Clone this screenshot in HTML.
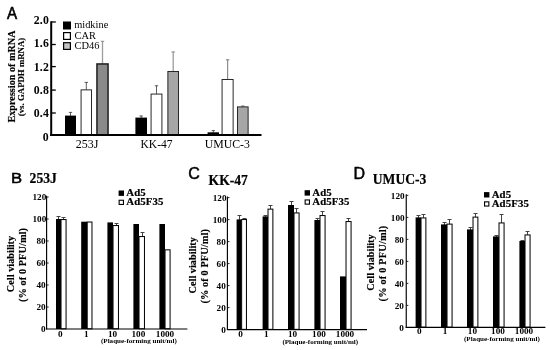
<!DOCTYPE html>
<html><head><meta charset="utf-8"><title>Figure</title>
<style>html,body{margin:0;padding:0;background:#fff;}svg{display:block;}text{font-family:"Liberation Serif",serif;fill:#000;}.b{font-weight:bold;}.s{font-family:"Liberation Sans",sans-serif;}</style></head><body>
<svg width="550" height="350" viewBox="0 0 550 350">
<rect x="0" y="0" width="550" height="350" fill="#fff"/>
<text x="7.10" y="18.70" font-size="16.4" class="s" text-anchor="start" stroke="#000" stroke-width="0.6" textLength="10.1" lengthAdjust="spacingAndGlyphs">A</text>
<line x1="70.50" y1="112.00" x2="70.50" y2="116.10" stroke="#444" stroke-width="0.85"/>
<line x1="68.80" y1="112.40" x2="72.20" y2="112.40" stroke="#444" stroke-width="0.85"/>
<rect x="65.00" y="115.60" width="11.00" height="19.40" fill="#000"/>
<line x1="86.30" y1="82.00" x2="86.30" y2="89.90" stroke="#444" stroke-width="0.85"/>
<line x1="84.60" y1="82.40" x2="88.00" y2="82.40" stroke="#444" stroke-width="0.85"/>
<rect x="81.07" y="89.88" width="10.45" height="45.15" fill="#fff" stroke="#1e1e1e" stroke-width="0.95"/>
<line x1="102.50" y1="41.00" x2="102.50" y2="63.70" stroke="#9c9c9c" stroke-width="1.3"/>
<line x1="100.80" y1="41.40" x2="104.20" y2="41.40" stroke="#9c9c9c" stroke-width="1.3"/>
<rect x="96.95" y="63.95" width="11.10" height="70.80" fill="#8a8a8a" stroke="#1e1e1e" stroke-width="1.5"/>
<line x1="141.20" y1="115.60" x2="141.20" y2="118.10" stroke="#444" stroke-width="0.85"/>
<line x1="139.50" y1="116.00" x2="142.90" y2="116.00" stroke="#444" stroke-width="0.85"/>
<rect x="135.40" y="117.60" width="11.60" height="17.40" fill="#000"/>
<line x1="156.50" y1="85.40" x2="156.50" y2="94.10" stroke="#444" stroke-width="0.85"/>
<line x1="154.80" y1="85.80" x2="158.20" y2="85.80" stroke="#444" stroke-width="0.85"/>
<rect x="151.07" y="94.07" width="10.85" height="40.95" fill="#fff" stroke="#1e1e1e" stroke-width="0.95"/>
<line x1="173.20" y1="51.60" x2="173.20" y2="71.50" stroke="#9c9c9c" stroke-width="1.3"/>
<line x1="171.50" y1="52.00" x2="174.90" y2="52.00" stroke="#9c9c9c" stroke-width="1.3"/>
<rect x="167.88" y="71.47" width="10.65" height="63.55" fill="#a6a6a6" stroke="#1e1e1e" stroke-width="0.95"/>
<line x1="213.30" y1="130.20" x2="213.30" y2="132.80" stroke="#444" stroke-width="0.85"/>
<line x1="211.60" y1="130.60" x2="215.00" y2="130.60" stroke="#444" stroke-width="0.85"/>
<rect x="207.60" y="132.30" width="11.40" height="2.70" fill="#000"/>
<line x1="227.60" y1="59.40" x2="227.60" y2="79.50" stroke="#8c8c8c" stroke-width="1.2"/>
<line x1="225.90" y1="59.80" x2="229.30" y2="59.80" stroke="#8c8c8c" stroke-width="1.2"/>
<rect x="222.07" y="79.47" width="11.05" height="55.55" fill="#ffffff" stroke="#1e1e1e" stroke-width="0.95"/>
<line x1="242.80" y1="105.60" x2="242.80" y2="106.90" stroke="#9c9c9c" stroke-width="1.3"/>
<line x1="241.10" y1="106.00" x2="244.50" y2="106.00" stroke="#9c9c9c" stroke-width="1.3"/>
<rect x="237.47" y="106.88" width="10.65" height="28.15" fill="#a6a6a6" stroke="#1e1e1e" stroke-width="0.95"/>
<line x1="51.20" y1="21.30" x2="51.20" y2="136.00" stroke="#000" stroke-width="2"/>
<line x1="50.10" y1="135.00" x2="261.50" y2="135.00" stroke="#000" stroke-width="2"/>
<line x1="51.00" y1="22.00" x2="55.80" y2="22.00" stroke="#000" stroke-width="1.3"/>
<line x1="51.00" y1="44.50" x2="55.80" y2="44.50" stroke="#000" stroke-width="1.3"/>
<line x1="51.00" y1="66.60" x2="55.80" y2="66.60" stroke="#000" stroke-width="1.3"/>
<line x1="51.00" y1="90.10" x2="55.80" y2="90.10" stroke="#000" stroke-width="1.3"/>
<line x1="51.00" y1="113.00" x2="55.80" y2="113.00" stroke="#000" stroke-width="1.3"/>
<text x="48.80" y="140.50" font-size="11.8" class="b" text-anchor="end" letter-spacing="0.25">0</text>
<text x="49.20" y="117.22" font-size="11.8" class="b" text-anchor="end" letter-spacing="0.25">0.4</text>
<text x="49.20" y="93.94" font-size="11.8" class="b" text-anchor="end" letter-spacing="0.25">0.8</text>
<text x="49.20" y="70.66" font-size="11.8" class="b" text-anchor="end" letter-spacing="0.25">1.2</text>
<text x="49.20" y="47.38" font-size="11.8" class="b" text-anchor="end" letter-spacing="0.25">1.6</text>
<text x="49.20" y="24.10" font-size="11.8" class="b" text-anchor="end" letter-spacing="0.25">2.0</text>
<rect x="63.00" y="21.50" width="8.00" height="8.00" fill="#000"/>
<rect x="63.60" y="32.60" width="6.80" height="6.80" fill="#fff" stroke="#000" stroke-width="1.2"/>
<rect x="63.60" y="42.70" width="6.80" height="6.70" fill="#c4c4c4" stroke="#000" stroke-width="1.2"/>
<text x="74.20" y="28.20" font-size="10.4" class="" text-anchor="start" >midkine</text>
<text x="74.60" y="39.20" font-size="10.4" class="" text-anchor="start" >CAR</text>
<text x="74.60" y="49.40" font-size="10.4" class="" text-anchor="start" >CD46</text>
<text x="87.00" y="148.10" font-size="12" class="" text-anchor="middle" >253J</text>
<text x="156.50" y="148.30" font-size="11.5" class="" text-anchor="middle" >KK-47</text>
<text x="227.30" y="148.30" font-size="11.8" class="" text-anchor="middle" >UMUC-3</text>
<text transform="translate(14.60,76.50) rotate(-90)" font-size="10.2" class="b" text-anchor="middle" letter-spacing="0" stroke="#000" stroke-width="0.15">Expression of mRNA</text>
<text transform="translate(24.30,77.00) rotate(-90)" font-size="8.8" class="b" text-anchor="middle" letter-spacing="0" stroke="#000" stroke-width="0.15">(vs. GAPDH mRNA)</text>
<text x="11.00" y="182.50" font-size="15.3" class="s" text-anchor="start" stroke="#000" stroke-width="0.5" textLength="11.1" lengthAdjust="spacingAndGlyphs">B</text>
<text x="29.60" y="183.40" font-size="13.6" class="b" text-anchor="start" stroke="#000" stroke-width="0.2">253J</text>
<line x1="58.50" y1="216.00" x2="58.50" y2="219.50" stroke="#444" stroke-width="1"/>
<line x1="56.50" y1="216.50" x2="60.50" y2="216.50" stroke="#444" stroke-width="1"/>
<line x1="63.50" y1="217.00" x2="63.50" y2="219.50" stroke="#444" stroke-width="1"/>
<line x1="61.50" y1="217.50" x2="65.50" y2="217.50" stroke="#444" stroke-width="1"/>
<rect x="56.00" y="219.00" width="5.00" height="110.00" fill="#000"/>
<rect x="61.02" y="219.53" width="5.05" height="109.25" fill="#fff" stroke="#0a0a0a" stroke-width="1.05"/>
<rect x="81.20" y="221.70" width="6.00" height="107.30" fill="#000"/>
<rect x="87.23" y="222.03" width="4.75" height="106.75" fill="#fff" stroke="#0a0a0a" stroke-width="1.05"/>
<line x1="116.50" y1="223.00" x2="116.50" y2="225.50" stroke="#444" stroke-width="1"/>
<line x1="114.50" y1="223.50" x2="118.50" y2="223.50" stroke="#444" stroke-width="1"/>
<rect x="107.40" y="222.40" width="5.60" height="106.60" fill="#000"/>
<rect x="113.03" y="225.53" width="5.45" height="103.25" fill="#fff" stroke="#0a0a0a" stroke-width="1.05"/>
<line x1="142.50" y1="232.00" x2="142.50" y2="236.50" stroke="#444" stroke-width="1"/>
<line x1="140.50" y1="232.50" x2="144.50" y2="232.50" stroke="#444" stroke-width="1"/>
<rect x="133.40" y="224.00" width="5.60" height="105.00" fill="#000"/>
<rect x="139.03" y="236.53" width="5.45" height="92.25" fill="#fff" stroke="#0a0a0a" stroke-width="1.05"/>
<rect x="159.40" y="224.00" width="5.60" height="105.00" fill="#000"/>
<rect x="165.03" y="249.83" width="5.05" height="78.95" fill="#fff" stroke="#0a0a0a" stroke-width="1.05"/>
<line x1="46.60" y1="195.80" x2="46.60" y2="329.50" stroke="#000" stroke-width="1.15"/>
<line x1="46.10" y1="329.00" x2="187.40" y2="329.00" stroke="#000" stroke-width="1.2"/>
<line x1="46.60" y1="307.00" x2="48.70" y2="307.00" stroke="#111" stroke-width="0.9"/>
<line x1="46.60" y1="285.00" x2="48.70" y2="285.00" stroke="#111" stroke-width="0.9"/>
<line x1="46.60" y1="263.00" x2="48.70" y2="263.00" stroke="#111" stroke-width="0.9"/>
<line x1="46.60" y1="241.00" x2="48.70" y2="241.00" stroke="#111" stroke-width="0.9"/>
<line x1="46.60" y1="219.00" x2="48.70" y2="219.00" stroke="#111" stroke-width="0.9"/>
<line x1="46.60" y1="197.00" x2="48.70" y2="197.00" stroke="#111" stroke-width="0.9"/>
<text x="45.60" y="332.10" font-size="9.2" class="b" text-anchor="end" >0</text>
<text x="45.60" y="310.10" font-size="9.2" class="b" text-anchor="end" >20</text>
<text x="45.60" y="288.10" font-size="9.2" class="b" text-anchor="end" >40</text>
<text x="45.60" y="266.10" font-size="9.2" class="b" text-anchor="end" >60</text>
<text x="45.60" y="244.10" font-size="9.2" class="b" text-anchor="end" >80</text>
<text x="46.30" y="222.10" font-size="9.2" class="b" text-anchor="end" >100</text>
<text x="46.30" y="200.10" font-size="9.2" class="b" text-anchor="end" >120</text>
<rect x="118.60" y="190.50" width="5.40" height="5.40" fill="#000"/>
<rect x="119.15" y="200.25" width="4.30" height="4.20" fill="#fff" stroke="#000" stroke-width="1.1"/>
<text x="126.30" y="196.00" font-size="10.8" class="b" text-anchor="start" stroke="#000" stroke-width="0.2" letter-spacing="0.12">Ad5</text>
<text x="126.30" y="205.00" font-size="10.8" class="b" text-anchor="start" stroke="#000" stroke-width="0.2" letter-spacing="0.12">Ad5F35</text>
<text x="60.20" y="336.70" font-size="9.2" class="b" text-anchor="middle" >0</text>
<text x="86.20" y="336.70" font-size="9.2" class="b" text-anchor="middle" >1</text>
<text x="112.60" y="336.70" font-size="9.2" class="b" text-anchor="middle" >10</text>
<text x="138.40" y="336.70" font-size="9.2" class="b" text-anchor="middle" >100</text>
<text x="165.00" y="336.70" font-size="9.2" class="b" text-anchor="middle" >1000</text>
<text x="101.00" y="343.20" font-size="7.05" class="b" text-anchor="start" >(Plaque-forming unit/ml)</text>
<text transform="translate(14.20,264.00) rotate(-90)" font-size="10.3" class="b" text-anchor="middle" letter-spacing="0" stroke="#000" stroke-width="0.15">Cell viability</text>
<text transform="translate(25.80,265.00) rotate(-90)" font-size="10.3" class="b" text-anchor="middle" letter-spacing="0.07" stroke="#000" stroke-width="0.15">(% of 0 PFU/ml)</text>
<text x="188.30" y="178.70" font-size="16" class="s" text-anchor="start" stroke="#000" stroke-width="0.5">C</text>
<text x="208.60" y="184.80" font-size="13.6" class="b" text-anchor="start" stroke="#000" stroke-width="0.2">KK-47</text>
<line x1="239.50" y1="215.00" x2="239.50" y2="219.90" stroke="#444" stroke-width="1"/>
<line x1="237.50" y1="215.50" x2="241.50" y2="215.50" stroke="#444" stroke-width="1"/>
<line x1="244.50" y1="218.00" x2="244.50" y2="219.50" stroke="#444" stroke-width="1"/>
<line x1="242.50" y1="218.50" x2="246.50" y2="218.50" stroke="#444" stroke-width="1"/>
<rect x="236.60" y="219.40" width="5.00" height="110.20" fill="#000"/>
<rect x="241.62" y="219.53" width="4.85" height="109.85" fill="#fff" stroke="#0a0a0a" stroke-width="1.05"/>
<line x1="265.50" y1="215.00" x2="265.50" y2="216.90" stroke="#444" stroke-width="1"/>
<line x1="263.50" y1="215.50" x2="267.50" y2="215.50" stroke="#444" stroke-width="1"/>
<line x1="270.50" y1="205.00" x2="270.50" y2="209.10" stroke="#444" stroke-width="1"/>
<line x1="268.50" y1="205.50" x2="272.50" y2="205.50" stroke="#444" stroke-width="1"/>
<rect x="262.60" y="216.40" width="5.40" height="113.20" fill="#000"/>
<rect x="268.02" y="209.12" width="4.85" height="120.25" fill="#fff" stroke="#0a0a0a" stroke-width="1.05"/>
<line x1="291.50" y1="201.00" x2="291.50" y2="205.50" stroke="#444" stroke-width="1"/>
<line x1="289.50" y1="201.50" x2="293.50" y2="201.50" stroke="#444" stroke-width="1"/>
<line x1="296.50" y1="208.00" x2="296.50" y2="212.90" stroke="#444" stroke-width="1"/>
<line x1="294.50" y1="208.50" x2="298.50" y2="208.50" stroke="#444" stroke-width="1"/>
<rect x="288.00" y="205.00" width="6.00" height="124.60" fill="#000"/>
<rect x="294.02" y="212.93" width="5.05" height="116.45" fill="#fff" stroke="#0a0a0a" stroke-width="1.05"/>
<line x1="317.50" y1="218.00" x2="317.50" y2="220.50" stroke="#444" stroke-width="1"/>
<line x1="315.50" y1="218.50" x2="319.50" y2="218.50" stroke="#444" stroke-width="1"/>
<line x1="322.50" y1="211.00" x2="322.50" y2="215.50" stroke="#444" stroke-width="1"/>
<line x1="320.50" y1="211.50" x2="324.50" y2="211.50" stroke="#444" stroke-width="1"/>
<rect x="314.40" y="220.00" width="5.60" height="109.60" fill="#000"/>
<rect x="320.02" y="215.53" width="5.05" height="113.85" fill="#fff" stroke="#0a0a0a" stroke-width="1.05"/>
<line x1="348.50" y1="218.00" x2="348.50" y2="221.50" stroke="#444" stroke-width="1"/>
<line x1="346.50" y1="218.50" x2="350.50" y2="218.50" stroke="#444" stroke-width="1"/>
<rect x="340.00" y="276.40" width="6.00" height="53.20" fill="#000"/>
<rect x="346.02" y="221.53" width="5.05" height="107.85" fill="#fff" stroke="#0a0a0a" stroke-width="1.05"/>
<line x1="227.40" y1="196.40" x2="227.40" y2="330.10" stroke="#000" stroke-width="1.15"/>
<line x1="226.90" y1="329.60" x2="367.00" y2="329.60" stroke="#000" stroke-width="1.2"/>
<line x1="227.40" y1="307.60" x2="229.50" y2="307.60" stroke="#111" stroke-width="0.9"/>
<line x1="227.40" y1="285.60" x2="229.50" y2="285.60" stroke="#111" stroke-width="0.9"/>
<line x1="227.40" y1="263.60" x2="229.50" y2="263.60" stroke="#111" stroke-width="0.9"/>
<line x1="227.40" y1="241.60" x2="229.50" y2="241.60" stroke="#111" stroke-width="0.9"/>
<line x1="227.40" y1="219.60" x2="229.50" y2="219.60" stroke="#111" stroke-width="0.9"/>
<line x1="227.40" y1="197.60" x2="229.50" y2="197.60" stroke="#111" stroke-width="0.9"/>
<text x="225.80" y="332.70" font-size="9.2" class="b" text-anchor="end" >0</text>
<text x="225.80" y="310.70" font-size="9.2" class="b" text-anchor="end" >20</text>
<text x="225.80" y="288.70" font-size="9.2" class="b" text-anchor="end" >40</text>
<text x="225.80" y="266.70" font-size="9.2" class="b" text-anchor="end" >60</text>
<text x="225.80" y="244.70" font-size="9.2" class="b" text-anchor="end" >80</text>
<text x="226.50" y="222.70" font-size="9.2" class="b" text-anchor="end" >100</text>
<text x="226.50" y="200.70" font-size="9.2" class="b" text-anchor="end" >120</text>
<rect x="304.60" y="190.20" width="5.40" height="5.40" fill="#000"/>
<rect x="305.15" y="199.95" width="4.30" height="4.20" fill="#fff" stroke="#000" stroke-width="1.1"/>
<text x="312.30" y="195.70" font-size="10.8" class="b" text-anchor="start" stroke="#000" stroke-width="0.2" letter-spacing="0.12">Ad5</text>
<text x="312.30" y="204.70" font-size="10.8" class="b" text-anchor="start" stroke="#000" stroke-width="0.2" letter-spacing="0.12">Ad5F35</text>
<text x="240.60" y="337.00" font-size="9.2" class="b" text-anchor="middle" >0</text>
<text x="266.40" y="337.00" font-size="9.2" class="b" text-anchor="middle" >1</text>
<text x="292.60" y="337.00" font-size="9.2" class="b" text-anchor="middle" >10</text>
<text x="319.00" y="337.00" font-size="9.2" class="b" text-anchor="middle" >100</text>
<text x="345.00" y="337.00" font-size="9.2" class="b" text-anchor="middle" >1000</text>
<text x="282.40" y="343.60" font-size="7.05" class="b" text-anchor="start" >(Plaque-forming unit/ml)</text>
<text transform="translate(196.10,265.30) rotate(-90)" font-size="10.3" class="b" text-anchor="middle" letter-spacing="0" stroke="#000" stroke-width="0.15">Cell viability</text>
<text transform="translate(208.20,266.30) rotate(-90)" font-size="10.3" class="b" text-anchor="middle" letter-spacing="0.1" stroke="#000" stroke-width="0.15">(% of 0 PFU/ml)</text>
<text x="353.60" y="178.80" font-size="16" class="s" text-anchor="start" stroke="#000" stroke-width="0.5">D</text>
<text x="372.80" y="183.70" font-size="13.6" class="b" text-anchor="start" stroke="#000" stroke-width="0.2">UMUC-3</text>
<line x1="418.50" y1="215.00" x2="418.50" y2="217.90" stroke="#444" stroke-width="1"/>
<line x1="416.50" y1="215.50" x2="420.50" y2="215.50" stroke="#444" stroke-width="1"/>
<line x1="423.50" y1="214.00" x2="423.50" y2="217.90" stroke="#444" stroke-width="1"/>
<line x1="421.50" y1="214.50" x2="425.50" y2="214.50" stroke="#444" stroke-width="1"/>
<rect x="415.60" y="217.40" width="5.40" height="110.00" fill="#000"/>
<rect x="421.02" y="217.93" width="4.85" height="109.25" fill="#fff" stroke="#0a0a0a" stroke-width="1.05"/>
<line x1="444.50" y1="222.00" x2="444.50" y2="224.90" stroke="#444" stroke-width="1"/>
<line x1="442.50" y1="222.50" x2="446.50" y2="222.50" stroke="#444" stroke-width="1"/>
<line x1="449.50" y1="219.00" x2="449.50" y2="224.10" stroke="#444" stroke-width="1"/>
<line x1="447.50" y1="219.50" x2="451.50" y2="219.50" stroke="#444" stroke-width="1"/>
<rect x="441.00" y="224.40" width="6.00" height="103.00" fill="#000"/>
<rect x="447.02" y="224.12" width="5.05" height="103.05" fill="#fff" stroke="#0a0a0a" stroke-width="1.05"/>
<line x1="470.50" y1="227.00" x2="470.50" y2="229.90" stroke="#444" stroke-width="1"/>
<line x1="468.50" y1="227.50" x2="472.50" y2="227.50" stroke="#444" stroke-width="1"/>
<line x1="475.50" y1="213.00" x2="475.50" y2="217.10" stroke="#444" stroke-width="1"/>
<line x1="473.50" y1="213.50" x2="477.50" y2="213.50" stroke="#444" stroke-width="1"/>
<rect x="467.00" y="229.40" width="6.00" height="98.00" fill="#000"/>
<rect x="473.02" y="217.12" width="4.85" height="110.05" fill="#fff" stroke="#0a0a0a" stroke-width="1.05"/>
<line x1="496.50" y1="235.00" x2="496.50" y2="236.90" stroke="#444" stroke-width="1"/>
<line x1="494.50" y1="235.50" x2="498.50" y2="235.50" stroke="#444" stroke-width="1"/>
<line x1="501.50" y1="214.00" x2="501.50" y2="222.90" stroke="#444" stroke-width="1"/>
<line x1="499.50" y1="214.50" x2="503.50" y2="214.50" stroke="#444" stroke-width="1"/>
<rect x="493.00" y="236.40" width="6.00" height="91.00" fill="#000"/>
<rect x="499.02" y="222.93" width="5.05" height="104.25" fill="#fff" stroke="#0a0a0a" stroke-width="1.05"/>
<line x1="522.50" y1="240.00" x2="522.50" y2="241.50" stroke="#444" stroke-width="1"/>
<line x1="520.50" y1="240.50" x2="524.50" y2="240.50" stroke="#444" stroke-width="1"/>
<line x1="527.50" y1="231.00" x2="527.50" y2="234.90" stroke="#444" stroke-width="1"/>
<line x1="525.50" y1="231.50" x2="529.50" y2="231.50" stroke="#444" stroke-width="1"/>
<rect x="519.40" y="241.00" width="5.60" height="86.40" fill="#000"/>
<rect x="525.02" y="234.93" width="5.05" height="92.25" fill="#fff" stroke="#0a0a0a" stroke-width="1.05"/>
<line x1="406.25" y1="194.20" x2="406.25" y2="327.90" stroke="#000" stroke-width="1.15"/>
<line x1="405.75" y1="327.40" x2="545.40" y2="327.40" stroke="#000" stroke-width="1.2"/>
<line x1="406.25" y1="305.40" x2="408.35" y2="305.40" stroke="#111" stroke-width="0.9"/>
<line x1="406.25" y1="283.40" x2="408.35" y2="283.40" stroke="#111" stroke-width="0.9"/>
<line x1="406.25" y1="261.40" x2="408.35" y2="261.40" stroke="#111" stroke-width="0.9"/>
<line x1="406.25" y1="239.40" x2="408.35" y2="239.40" stroke="#111" stroke-width="0.9"/>
<line x1="406.25" y1="217.40" x2="408.35" y2="217.40" stroke="#111" stroke-width="0.9"/>
<line x1="406.25" y1="195.40" x2="408.35" y2="195.40" stroke="#111" stroke-width="0.9"/>
<text x="403.95" y="330.50" font-size="9.2" class="b" text-anchor="end" >0</text>
<text x="403.95" y="308.50" font-size="9.2" class="b" text-anchor="end" >20</text>
<text x="403.95" y="286.50" font-size="9.2" class="b" text-anchor="end" >40</text>
<text x="403.95" y="264.50" font-size="9.2" class="b" text-anchor="end" >60</text>
<text x="403.95" y="242.50" font-size="9.2" class="b" text-anchor="end" >80</text>
<text x="404.65" y="220.50" font-size="9.2" class="b" text-anchor="end" >100</text>
<text x="404.65" y="198.50" font-size="9.2" class="b" text-anchor="end" >120</text>
<rect x="484.00" y="192.10" width="5.40" height="5.40" fill="#000"/>
<rect x="484.55" y="201.85" width="4.30" height="4.20" fill="#fff" stroke="#000" stroke-width="1.1"/>
<text x="491.70" y="197.60" font-size="10.8" class="b" text-anchor="start" stroke="#000" stroke-width="0.2" letter-spacing="0.12">Ad5</text>
<text x="491.70" y="206.60" font-size="10.8" class="b" text-anchor="start" stroke="#000" stroke-width="0.2" letter-spacing="0.12">Ad5F35</text>
<text x="419.40" y="334.20" font-size="9.2" class="b" text-anchor="middle" >0</text>
<text x="445.00" y="334.20" font-size="9.2" class="b" text-anchor="middle" >1</text>
<text x="472.40" y="334.20" font-size="9.2" class="b" text-anchor="middle" >10</text>
<text x="498.00" y="334.20" font-size="9.2" class="b" text-anchor="middle" >100</text>
<text x="524.00" y="334.20" font-size="9.2" class="b" text-anchor="middle" >1000</text>
<text x="464.00" y="341.40" font-size="7.05" class="b" text-anchor="start" >(Plaque-forming unit/ml)</text>
<text transform="translate(374.20,262.50) rotate(-90)" font-size="10.3" class="b" text-anchor="middle" letter-spacing="0" stroke="#000" stroke-width="0.15">Cell viability</text>
<text transform="translate(386.40,263.50) rotate(-90)" font-size="10.3" class="b" text-anchor="middle" letter-spacing="0.2" stroke="#000" stroke-width="0.15">(% of 0 PFU/ml)</text>
</svg></body></html>
